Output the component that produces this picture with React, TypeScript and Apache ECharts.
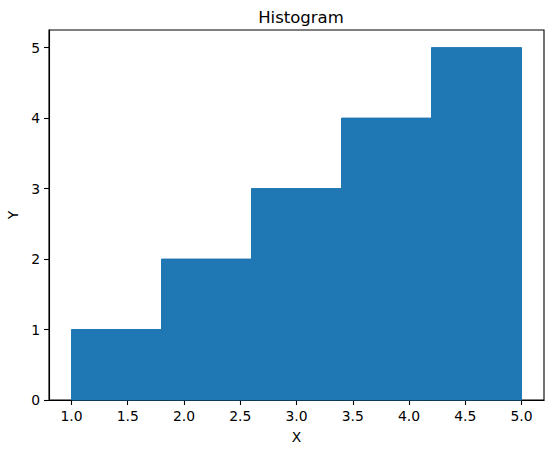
import { useEffect, useRef } from "react";
import * as echarts from "echarts";

// histogram data: bin edges and counts per bin
const binEdges = [1.0, 1.8, 2.6, 3.4, 4.2, 5.0];
const counts = [1, 2, 3, 4, 5];
const xTicks = [1.0, 1.5, 2.0, 2.5, 3.0, 3.5, 4.0, 4.5, 5.0];
const yTicks = [0, 1, 2, 3, 4, 5];

const FONT = "DejaVu Sans";

export default function App() {
  const chartRef = useRef<HTMLDivElement>(null);

  useEffect(() => {
    if (!chartRef.current) return;
    const chart = echarts.init(chartRef.current, null, { renderer: "svg" });

    const bins = counts.map((c, i) => [binEdges[i], binEdges[i + 1], c]);

    chart.setOption({
      animation: false,
      textStyle: { fontFamily: FONT },
      title: {
        text: "Histogram",
        left: 296,
        top: 4,
        textAlign: "center",
        textStyle: { fontFamily: FONT, fontSize: 16.5, fontWeight: "normal", color: "#000" },
      },
      grid: {
        left: 49,
        top: 30,
        width: 495,
        height: 370,
        outerBoundsMode: "none",
        containLabel: false,
        show: true,
        borderColor: "#000",
        borderWidth: 1.1,
        backgroundColor: "transparent",
      },
      xAxis: {
        type: "value",
        min: 0.8,
        max: 5.2,
        name: "X",
        nameLocation: "middle",
        nameGap: 30,
        nameTextStyle: { fontFamily: FONT, fontSize: 13.9, color: "#000" },
        axisLine: { show: true, onZero: false, lineStyle: { color: "#000", width: 1.1 } },
        axisTick: { show: true, length: 5, inside: false, customValues: xTicks, lineStyle: { color: "#000", width: 1.1 } },
        axisLabel: {
          customValues: xTicks,
          margin: 9,
          fontFamily: FONT,
          fontSize: 13.9,
          color: "#000",
          formatter: (v: number) => v.toFixed(1),
        },
        splitLine: { show: false },
      },
      yAxis: {
        type: "value",
        min: 0,
        max: 5.25,
        name: "Y",
        nameLocation: "middle",
        nameGap: 29,
        nameTextStyle: { fontFamily: FONT, fontSize: 13.9, color: "#000" },
        axisLine: { show: true, lineStyle: { color: "#000", width: 1.1 } },
        axisTick: { show: true, length: 5, inside: false, customValues: yTicks, lineStyle: { color: "#000", width: 1.1 } },
        axisLabel: {
          customValues: yTicks,
          margin: 9,
          fontFamily: FONT,
          fontSize: 13.9,
          color: "#000",
        },
        splitLine: { show: false },
      },
      series: [
        {
          type: "custom",
          data: bins,
          encode: { x: [0, 1], y: 2 },
          renderItem: (params: any, api: any) => {
            const p0 = api.coord([api.value(0), api.value(2)]);
            const p1 = api.coord([api.value(1), 0]);
            return {
              type: "rect",
              shape: { x: p0[0], y: p0[1], width: p1[0] - p0[0], height: p1[1] - p0[1] },
              style: { fill: "#1f77b4", stroke: "#1f77b4", lineWidth: 1 },
            };
          },
        },
      ],
    });

    return () => chart.dispose();
  }, []);

  return (
    <div
      ref={chartRef}
      style={{ width: 554, height: 453, position: "absolute", left: 0, top: 0 }}
    />
  );
}
